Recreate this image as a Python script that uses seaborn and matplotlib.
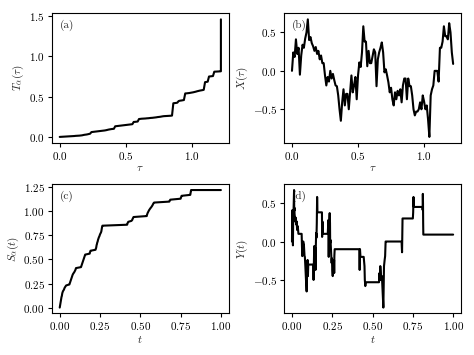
import numpy as np
import pandas as pd
import matplotlib
matplotlib.use("Agg")
import matplotlib.pyplot as plt
import seaborn as sns

# === DATA ===
# operational time tau, subordinator T_alpha(tau) and Brownian path X(tau)
tau = [0.00, 0.01, 0.02, 0.03, 0.04, 0.05, 0.06, 0.07, 0.08, 0.09,
       0.10, 0.11, 0.12, 0.13, 0.14, 0.15, 0.16, 0.17, 0.18, 0.19,
       0.20, 0.21, 0.22, 0.23, 0.24, 0.25, 0.26, 0.27, 0.28, 0.29,
       0.30, 0.31, 0.32, 0.33, 0.34, 0.35, 0.36, 0.37, 0.38, 0.39,
       0.40, 0.41, 0.42, 0.43, 0.44, 0.45, 0.46, 0.47, 0.48, 0.49,
       0.50, 0.51, 0.52, 0.53, 0.54, 0.55, 0.56, 0.57, 0.58, 0.59,
       0.60, 0.61, 0.62, 0.63, 0.64, 0.65, 0.66, 0.67, 0.68, 0.69,
       0.70, 0.71, 0.72, 0.73, 0.74, 0.75, 0.76, 0.77, 0.78, 0.79,
       0.80, 0.81, 0.82, 0.83, 0.84, 0.85, 0.86, 0.87, 0.88, 0.89,
       0.90, 0.91, 0.92, 0.93, 0.94, 0.95, 0.96, 0.97, 0.98, 0.99,
       1.00, 1.01, 1.02, 1.03, 1.04, 1.05, 1.06, 1.07, 1.08, 1.09,
       1.10, 1.11, 1.12, 1.13, 1.14, 1.15, 1.16, 1.17, 1.18, 1.19,
       1.20, 1.21, 1.22, 1.22]

T_alpha = [0.000, 0.001, 0.002, 0.003, 0.004, 0.005, 0.006, 0.007, 0.008, 0.009,
           0.010, 0.011, 0.013, 0.014, 0.015, 0.016, 0.018, 0.020, 0.024, 0.027,
           0.029, 0.032, 0.036, 0.040, 0.060, 0.062, 0.064, 0.066, 0.068, 0.070,
           0.072, 0.074, 0.076, 0.078, 0.080, 0.083, 0.087, 0.091, 0.094, 0.097,
           0.099, 0.101, 0.132, 0.134, 0.136, 0.138, 0.140, 0.142, 0.144, 0.146,
           0.148, 0.150, 0.152, 0.154, 0.156, 0.158, 0.186, 0.187, 0.189, 0.191,
           0.222, 0.224, 0.226, 0.227, 0.228, 0.229, 0.231, 0.232, 0.234, 0.236,
           0.237, 0.239, 0.241, 0.243, 0.246, 0.248, 0.250, 0.253, 0.256, 0.258,
           0.259, 0.260, 0.261, 0.262, 0.263, 0.265, 0.418, 0.420, 0.422, 0.425,
           0.445, 0.450, 0.452, 0.455, 0.458, 0.540, 0.541, 0.543, 0.545, 0.548,
           0.551, 0.554, 0.558, 0.562, 0.567, 0.571, 0.575, 0.578, 0.581, 0.585,
           0.680, 0.683, 0.686, 0.750, 0.752, 0.754, 0.756, 0.810, 0.811, 0.812,
           0.813, 0.814, 0.815, 1.460]

X = [0.00, 0.24, 0.18, 0.41, 0.22, 0.30, -0.05, 0.20, 0.34, 0.30,
     0.42, 0.50, 0.67, 0.40, 0.44, 0.36, 0.32, 0.26, 0.31, 0.22,
     0.26, 0.15, 0.20, 0.10, 0.10, -0.06, -0.19, -0.08, -0.14, 0.00,
     -0.10, -0.04, -0.12, -0.19, -0.20, -0.32, -0.50, -0.65, -0.41, -0.24,
     -0.45, -0.30, -0.30, -0.50, -0.28, -0.06, -0.28, -0.19, -0.08, -0.37,
     -0.06, 0.11, 0.05, 0.24, 0.58, 0.38, 0.38, 0.06, 0.26, 0.10,
     0.10, 0.19, 0.28, 0.24, -0.20, 0.15, 0.24, 0.30, 0.37, 0.24,
     -0.02, 0.02, -0.06, -0.15, -0.28, -0.22, -0.37, -0.45, -0.28, -0.37,
     -0.26, -0.32, -0.24, -0.41, -0.19, -0.10, -0.10, -0.37, -0.10, -0.20,
     -0.20, -0.32, -0.50, -0.58, -0.53, -0.53, -0.50, -0.41, -0.50, -0.32,
     -0.40, -0.50, -0.45, -0.63, -0.86, -0.32, -0.24, -0.19, 0.00, 0.00,
     0.00, -0.14, 0.30, 0.30, 0.38, 0.58, 0.45, 0.45, 0.41, 0.62,
     0.50, 0.24, 0.09, 0.09]

t_end = 1.0  # observation horizon for the physical time t

# === PREPARE ===
df = pd.DataFrame({"tau": tau, "T": T_alpha, "X": X})
df["t"] = np.minimum(df["T"], t_end)  # inverse subordinator: S(t) graph = reflected T graph

# === STYLE ===
sns.set_style("ticks")
plt.rcParams["font.family"] = "serif"
plt.rcParams["font.serif"] = ["cmr10", "DejaVu Serif"]
plt.rcParams["mathtext.fontset"] = "cm"
plt.rcParams["axes.formatter.use_mathtext"] = True
plt.rcParams["axes.edgecolor"] = "black"
plt.rcParams["axes.linewidth"] = 0.8
plt.rcParams["xtick.color"] = "black"
plt.rcParams["ytick.color"] = "black"
plt.rcParams["xtick.major.size"] = 3
plt.rcParams["ytick.major.size"] = 3

FS = 8
fig, axes = plt.subplots(2, 2, figsize=(4.74, 3.55), dpi=100)
fig.subplots_adjust(left=0.109, right=0.973, bottom=0.117, top=0.962,
                    wspace=0.31, hspace=0.32)

panels = [
    (axes[0, 0], "tau", "T", r"$\tau$", r"$T_\alpha(\tau)$", "(a)"),
    (axes[0, 1], "tau", "X", r"$\tau$", r"$X(\tau)$", "(b)"),
    (axes[1, 0], "t", "tau", r"$t$", r"$S_\alpha(t)$", "(c)"),
    (axes[1, 1], "t", "X", r"$t$", r"$Y(t)$", "(d)"),
]

for ax, xcol, ycol, xlab, ylab, tag in panels:
    sns.lineplot(data=df, x=xcol, y=ycol, sort=False, estimator=None,
                 color="black", linewidth=1.5, ax=ax, zorder=3)
    ax.set_xlabel(xlab, fontsize=FS, labelpad=1)
    ax.set_ylabel(ylab, fontsize=FS, labelpad=2)
    ax.tick_params(labelsize=FS, width=0.8, pad=2)
    ax.text(0.047, 0.95, tag, transform=ax.transAxes, va="top", ha="left",
            fontsize=FS, zorder=2)

axes[0, 0].set_xticks([0.0, 0.5, 1.0])
axes[0, 0].set_yticks([0.0, 0.5, 1.0, 1.5])
axes[0, 1].set_xticks([0.0, 0.5, 1.0])
axes[0, 1].set_yticks([-0.5, 0.0, 0.5])
axes[1, 0].set_xticks([0.0, 0.25, 0.5, 0.75, 1.0])
axes[1, 0].set_yticks([0.0, 0.25, 0.5, 0.75, 1.0, 1.25])
axes[1, 1].set_xticks([0.0, 0.25, 0.5, 0.75, 1.0])
axes[1, 1].set_yticks([-0.5, 0.0, 0.5])

fig.savefig("out.png", dpi=100)
plt.close(fig)
